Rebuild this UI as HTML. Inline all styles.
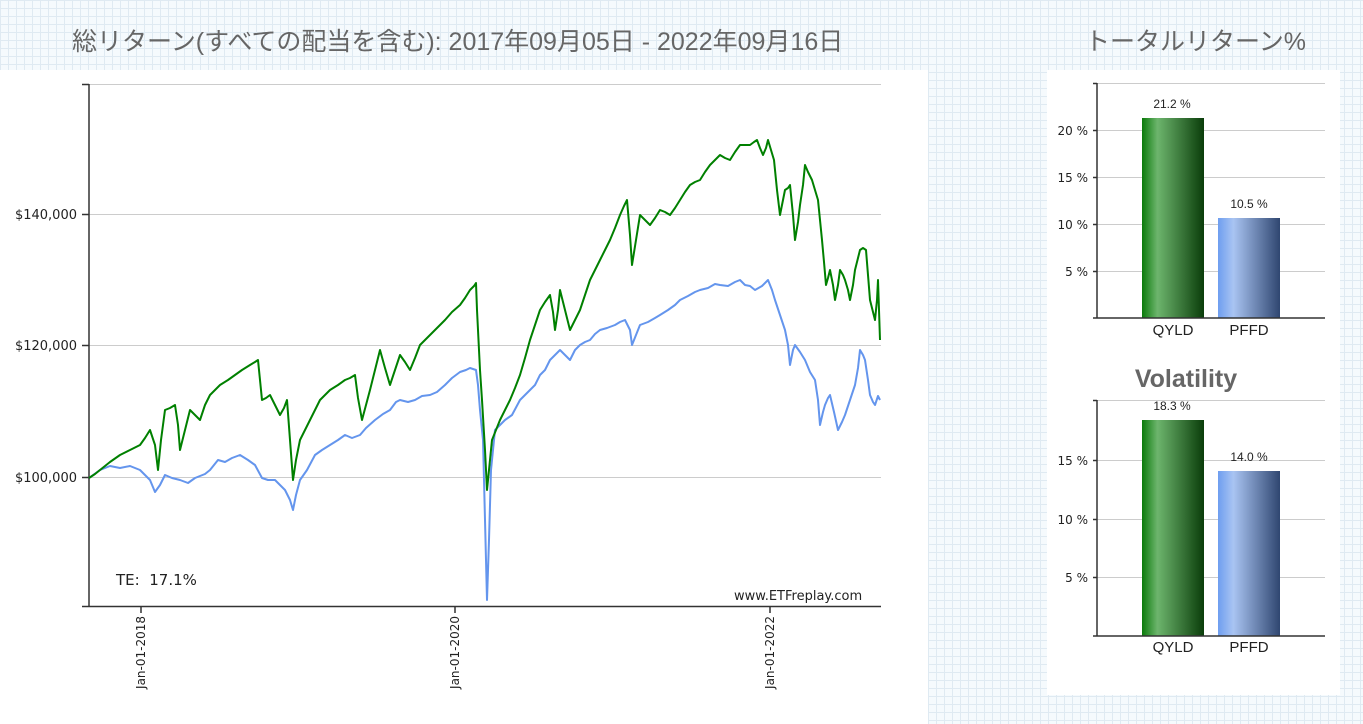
<!DOCTYPE html>
<html><head><meta charset="utf-8"><style>
html,body{margin:0;padding:0}
body{width:1363px;height:724px;position:relative;overflow:hidden;font-family:"Liberation Sans","Noto Sans CJK JP",sans-serif;
background-color:#f5fafd;
background-image:linear-gradient(#dfeaf2 1px,transparent 1px),linear-gradient(90deg,#dfeaf2 1px,transparent 1px);
background-size:8px 8px;}
.t{position:absolute;color:#666;font-size:25px;white-space:nowrap}
</style></head><body>
<div style="position:absolute;left:0;top:70px;width:928px;height:654px;background:#fff"></div>
<div style="position:absolute;left:1047px;top:70px;width:293px;height:625px;background:#fff"></div>
<div class="t" style="left:72px;top:22px">総リターン(すべての配当を含む): 2017年09月05日 - 2022年09月16日</div>
<div class="t" style="left:1085px;top:22px">トータルリターン%</div>
<svg width="1363" height="724" style="position:absolute;left:0;top:0" font-family="DejaVu Sans, sans-serif">
<g stroke="#ccc" stroke-width="1">
<line x1="89" y1="84.5" x2="881" y2="84.5"/><line x1="89" y1="214.5" x2="881" y2="214.5"/><line x1="89" y1="345.5" x2="881" y2="345.5"/><line x1="89" y1="477.5" x2="881" y2="477.5"/>
</g>
<g stroke="#333" stroke-width="1.5">
<line x1="89" y1="84" x2="89" y2="607"/><line x1="89" y1="606.5" x2="881" y2="606.5"/>
<line x1="82" y1="84.5" x2="89" y2="84.5"/><line x1="82" y1="214.5" x2="89" y2="214.5"/><line x1="82" y1="345.5" x2="89" y2="345.5"/><line x1="82" y1="477.5" x2="89" y2="477.5"/><line x1="82" y1="606.5" x2="89" y2="606.5"/>
<line x1="141" y1="606" x2="141" y2="613"/><line x1="455" y1="606" x2="455" y2="613"/><line x1="770" y1="606" x2="770" y2="613"/>
</g>
<g font-size="13" fill="#222" text-anchor="end">
<text x="77" y="219">$140,000</text><text x="77" y="350">$120,000</text><text x="77" y="482">$100,000</text>
</g>
<g font-size="12" fill="#222" text-anchor="end">
<text transform="translate(145,616) rotate(-90)">Jan-01-2018</text>
<text transform="translate(459,616) rotate(-90)">Jan-01-2020</text>
<text transform="translate(774,616) rotate(-90)">Jan-01-2022</text>
</g>
<text x="116" y="585" font-size="15" fill="#222" xml:space="preserve">TE:  17.1%</text>
<text x="734" y="600" font-size="13" fill="#222">www.ETFreplay.com</text>
<polyline fill="none" stroke="#6495ed" stroke-width="2" stroke-linejoin="round" points="89,478 100,470 110,466 120,468 130,466 140,470 150,480 155,492 160,485 165,475 172,478 180,480 188,483 195,478 205,474 210,470 218,460 225,462 232,458 240,455 248,460 255,465 262,478 268,480 275,480 280,485 285,490 290,500 293,510 296,495 300,480 307,470 315,455 322,450 330,445 338,440 345,435 352,438 360,435 366,428 375,420 383,414 390,410 396,402 400,400 408,402 415,400 422,396 430,395 437,392 445,385 452,378 460,372 466,370 470,368 476,370 478,385 480,410 483,440 486,560 487,600 489,540 491,470 495,430 500,425 505,420 512,415 520,400 528,392 535,385 540,375 545,370 550,360 555,355 560,350 565,355 570,360 575,350 580,345 585,342 590,340 595,334 600,330 607,328 615,325 620,322 625,320 630,330 632,345 636,335 640,325 648,322 655,318 660,315 668,310 675,305 680,300 688,296 695,292 700,290 708,288 715,284 720,285 728,286 735,282 740,280 745,285 750,286 755,290 762,286 768,280 772,290 775,300 780,315 785,330 788,345 790,365 793,350 795,345 800,352 805,360 810,372 815,380 818,400 820,425 823,412 825,405 828,398 830,395 834,412 838,430 842,422 845,415 850,400 855,385 858,368 860,350 863,355 865,360 868,380 870,395 873,402 875,405 878,396 880,400"/>
<polyline fill="none" stroke="#008000" stroke-width="2" stroke-linejoin="round" points="89,478 95,474 100,470 110,462 120,455 130,450 140,445 145,438 150,430 155,445 158,470 161,440 165,410 170,408 175,405 178,425 180,450 185,430 190,410 195,415 200,420 205,405 210,395 215,390 220,385 228,380 235,375 242,370 250,365 255,362 258,360 260,380 262,400 266,398 270,395 275,405 280,415 284,408 287,400 290,440 293,480 296,460 300,440 305,430 310,420 315,410 320,400 325,395 330,390 338,385 345,380 350,378 355,375 358,398 362,420 366,405 370,390 375,370 380,350 385,368 390,385 395,370 400,355 405,362 410,370 415,358 420,345 425,340 430,335 437,328 445,320 452,312 460,305 465,298 470,290 474,286 476,283 477,310 478,330 480,370 482,400 485,450 487,490 490,460 492,440 496,430 500,420 505,410 510,400 515,388 520,375 525,358 530,340 535,325 540,310 545,302 550,295 553,312 555,330 558,310 560,290 565,310 570,330 575,320 580,310 585,295 590,280 595,270 600,260 605,250 610,240 615,228 620,215 624,206 627,200 630,235 632,265 636,240 640,215 645,220 650,225 655,218 660,210 665,212 670,215 675,208 680,200 685,192 690,185 695,182 700,180 705,172 710,165 715,160 720,155 725,158 730,160 735,152 740,145 745,145 750,145 754,142 757,140 760,148 763,155 766,148 768,140 771,150 774,160 777,190 780,215 783,200 785,190 788,188 790,185 793,215 795,240 798,222 800,205 803,185 805,165 808,172 812,180 815,190 818,200 820,220 822,240 824,262 826,285 828,278 830,270 833,285 835,300 838,285 840,270 843,275 845,280 848,290 850,300 853,285 855,270 858,258 860,250 863,248 866,250 868,275 870,300 873,312 875,320 877,300 878,280 879,310 880,340"/>
<defs>
<linearGradient id="gg" x1="0" x2="1"><stop offset="0" stop-color="#0a7a0a"/><stop offset="0.25" stop-color="#6db56d"/><stop offset="1" stop-color="#0a3d0a"/></linearGradient>
<linearGradient id="bg" x1="0" x2="1"><stop offset="0" stop-color="#6e9ef0"/><stop offset="0.25" stop-color="#a9c4f2"/><stop offset="1" stop-color="#2f4670"/></linearGradient>
</defs>
<g stroke="#ccc"><line x1="1097" y1="83.5" x2="1325" y2="83.5"/><line x1="1097" y1="130.5" x2="1325" y2="130.5"/><line x1="1097" y1="177.5" x2="1325" y2="177.5"/><line x1="1097" y1="224.5" x2="1325" y2="224.5"/><line x1="1097" y1="271.5" x2="1325" y2="271.5"/>
<line x1="1097" y1="400.5" x2="1325" y2="400.5"/><line x1="1097" y1="460.5" x2="1325" y2="460.5"/><line x1="1097" y1="519.5" x2="1325" y2="519.5"/><line x1="1097" y1="577.5" x2="1325" y2="577.5"/></g>
<rect x="1142" y="118" width="62" height="200" fill="url(#gg)"/>
<rect x="1218" y="218" width="62" height="100" fill="url(#bg)"/>
<rect x="1142" y="420" width="62" height="216" fill="url(#gg)"/>
<rect x="1218" y="471" width="62" height="165" fill="url(#bg)"/>
<g stroke="#333" stroke-width="1.5">
<line x1="1097" y1="83" x2="1097" y2="318"/><line x1="1093" y1="318" x2="1325" y2="318"/>
<line x1="1093" y1="83.5" x2="1097" y2="83.5"/><line x1="1093" y1="130.5" x2="1097" y2="130.5"/><line x1="1093" y1="177.5" x2="1097" y2="177.5"/><line x1="1093" y1="224.5" x2="1097" y2="224.5"/><line x1="1093" y1="271.5" x2="1097" y2="271.5"/>
<line x1="1097" y1="400" x2="1097" y2="636"/><line x1="1093" y1="636" x2="1325" y2="636"/>
<line x1="1093" y1="400.5" x2="1097" y2="400.5"/><line x1="1093" y1="460.5" x2="1097" y2="460.5"/><line x1="1093" y1="519.5" x2="1097" y2="519.5"/><line x1="1093" y1="577.5" x2="1097" y2="577.5"/>
</g>
<g font-size="12" fill="#222" text-anchor="end">
<text x="1088" y="135">20 %</text><text x="1088" y="182">15 %</text><text x="1088" y="229">10 %</text><text x="1088" y="276">5 %</text>
<text x="1088" y="465">15 %</text><text x="1088" y="524">10 %</text><text x="1088" y="582">5 %</text>
</g>
<g font-size="12" fill="#222" text-anchor="middle" font-family="Liberation Sans, sans-serif">
<text x="1172" y="108">21.2 %</text><text x="1249" y="208">10.5 %</text>
<text x="1172" y="410">18.3 %</text><text x="1249" y="461">14.0 %</text>
</g>
<g font-size="15" fill="#222" text-anchor="middle" font-family="Liberation Sans, sans-serif">
<text x="1173" y="335">QYLD</text><text x="1249" y="335">PFFD</text>
<text x="1173" y="652">QYLD</text><text x="1249" y="652">PFFD</text>
</g>
<text x="1186" y="387" font-size="25" font-weight="bold" fill="#666" text-anchor="middle" font-family="Liberation Sans, sans-serif">Volatility</text>
</svg>
</body></html>
